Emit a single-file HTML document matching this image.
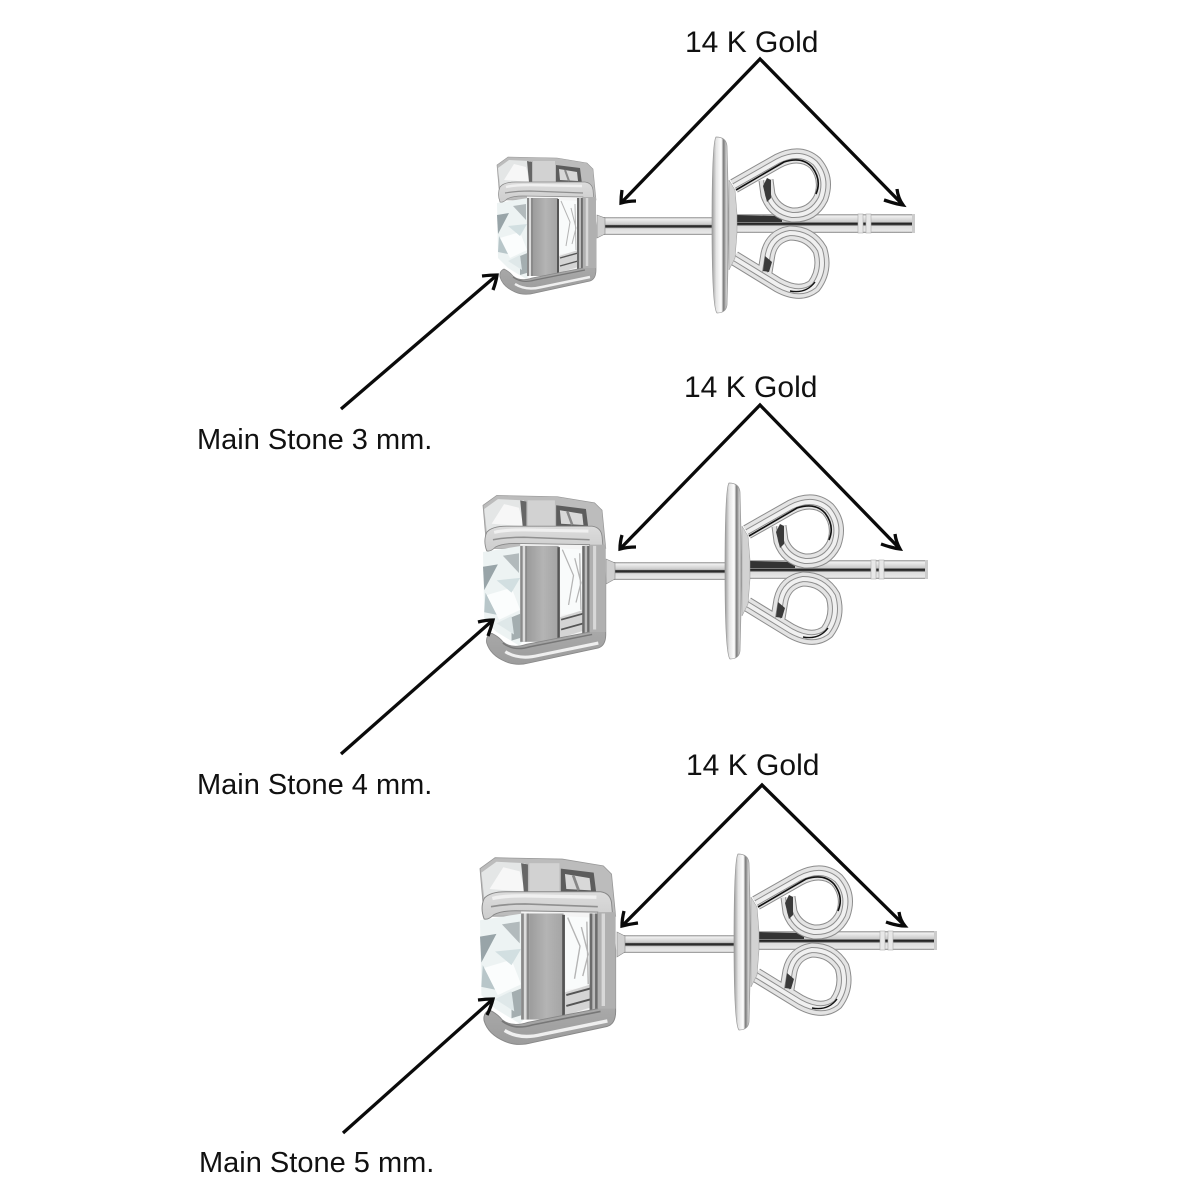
<!DOCTYPE html>
<html><head><meta charset="utf-8"><style>html,body{margin:0;padding:0;background:#fff}svg{display:block}text{font-family:"Liberation Sans",Arial,sans-serif;fill:#111}</style></head><body>
<svg width="1200" height="1200" viewBox="0 0 1200 1200" xmlns="http://www.w3.org/2000/svg">
<defs>
<linearGradient id="pin" x1="0" y1="0" x2="0" y2="1"><stop offset="0" stop-color="#999"/><stop offset=".12" stop-color="#eee"/><stop offset=".42" stop-color="#c8c8c8"/><stop offset=".48" stop-color="#222"/><stop offset=".56" stop-color="#333"/><stop offset=".64" stop-color="#ddd"/><stop offset=".9" stop-color="#e8e8e8"/><stop offset="1" stop-color="#888"/></linearGradient>
<linearGradient id="disc" x1="0" y1="0" x2="1" y2="0"><stop offset="0" stop-color="#999"/><stop offset=".25" stop-color="#e4e4e4"/><stop offset=".55" stop-color="#fff"/><stop offset=".68" stop-color="#777"/><stop offset=".85" stop-color="#d4d4d4"/><stop offset="1" stop-color="#888"/></linearGradient>
<linearGradient id="bar" x1="0" y1="0" x2="1" y2="0"><stop offset="0" stop-color="#9c9c9c"/><stop offset=".5" stop-color="#b4b4b4"/><stop offset="1" stop-color="#a4a4a4"/></linearGradient>
<linearGradient id="band" x1="0" y1="0" x2="0" y2="1"><stop offset="0" stop-color="#dcdcdc"/><stop offset=".4" stop-color="#bcbcbc"/><stop offset="1" stop-color="#9c9c9c"/></linearGradient>

<g id="head">
<!-- back band -->
<path d="M497 165 L508 157 L557 158 L587 163 L593 169 L596 200 L500 200 Z" fill="#bcbcbc" stroke="#999" stroke-width=".6"/>
<path d="M500 186 L498 168 L509 160 L530 161 L532 184 Z" fill="#e4e6e6"/>
<path d="M504 180 L514 164 L526 167 L530 182Z" fill="#f7f7f7"/>
<path d="M527 161 L532 162 L532 182 L529 182Z" fill="#666"/>
<rect x="533" y="161" width="22" height="21" fill="#d2d2d2"/>
<path d="M556 165 L580 168 L582 184 L556 183Z" fill="#5c5c5c"/>
<path d="M559 169 L577 172 L578 181 L560 180Z" fill="#d8d8d8"/>
<path d="M565 170 L569 181" stroke="#888" stroke-width="2"/>
<!-- stone -->
<path d="M497 203 L528 198 L533 272 L526 279 L508 268 L498 258 Z" fill="#edf3f3"/>
<path d="M497 215 L509 213 L498 234 Z" fill="#98a4a8"/>
<path d="M500 238 L520 232 L527 250 L510 258 Z" fill="#fbfdfd"/>
<path d="M513 206 L526 204 L526 220 Z" fill="#b2babc"/>
<path d="M508 226 L527 224 L520 236 Z" fill="#d2dfe1"/>
<path d="M499 236 L498 252 L508 254 Z" fill="#b8c6c9"/>
<path d="M520 256 L530 252 L530 272 L520 275Z" fill="#a4aeb0"/>
<path d="M508 261 L520 255 L522 270Z" fill="#dfe8e9"/>
<!-- window -->
<rect x="527" y="196" width="58" height="78" fill="#f4f4f4"/>
<path d="M558 200 L578 201 L578 252 L560 254Z" fill="#f9fbfb"/>
<path d="M561 201 L570 222 L566 246 M571 208 L576 228 L572 244 M575 204 L576 250" fill="none" stroke="#b4b4b4" stroke-width="1"/>
<path d="M559 256 L578 250 L578 267 L559 273 Z" fill="#d4d4d4"/>
<path d="M560 258 L578 253 M560 266 L578 261" stroke="#555" stroke-width="1.4"/>
<rect x="577" y="198" width="6" height="71" fill="#6c6c6c"/>
<rect x="579" y="198" width="2" height="71" fill="#bbb"/>
<rect x="527" y="198" width="6" height="78" fill="#8a8a8a"/>
<rect x="529" y="198" width="2" height="78" fill="#dcdcdc"/>
<rect x="533" y="198" width="25" height="78" fill="url(#bar)"/>
<rect x="557" y="199" width="2" height="75" fill="#555"/>
<!-- front frame -->
<path d="M500 202 Q497 194 500 187 Q504 182 516 182 L585 182 Q592 183 593 190 L596 225 L596 270 Q596 279 590 281 L535 293 Q524 296 515 292 Q503 287 500 277 Q499 271 504 269 Q510 272 513 276 Q520 282 532 278 L583 268 L583 197 L523 196 Q512 196 507 199 Q503 203 500 202Z" fill="url(#band)" stroke="#888" stroke-width=".7"/>
<rect x="583" y="197" width="13" height="71" fill="#b0b0b0"/>
<path d="M587 198 L587 266" stroke="#d8d8d8" stroke-width="2.5"/>
<path d="M506 187 Q514 185 530 185 L582 186" stroke="#f0f0f0" stroke-width="2.5" fill="none"/>
<path d="M515 284 Q526 291 542 287 L590 277" stroke="#efefef" stroke-width="2.5" fill="none"/>
<path d="M505 193 Q516 191 530 191 L583 193" stroke="#909090" stroke-width="1.2" fill="none"/>
<path d="M513 277 Q522 284 535 280 L585 270" stroke="#777" stroke-width="1.2" fill="none"/>
</g>

<g id="back">
<!-- rear pin -->
<rect x="728" y="214" width="187" height="19" fill="url(#pin)"/>
<path d="M737 215 L782 216 L782 222 L737 222Z" fill="#333"/>
<rect x="858" y="214" width="5" height="19" fill="#e8e8e8" stroke="#aaa" stroke-width=".6"/>
<rect x="866" y="214" width="5" height="19" fill="#e8e8e8" stroke="#aaa" stroke-width=".6"/>
<rect x="912" y="214" width="3" height="19" fill="#ccc"/>
<g fill="none" stroke-linecap="butt" stroke-linejoin="round">
<!-- top loop -->
<path d="M734 186 L778 161 Q800 150 815 163 Q828 178 821 198 Q812 216 792 215 Q774 212 768 195 L766 180" stroke="#8c8c8c" stroke-width="15"/>
<path d="M734 186 L778 161 Q800 150 815 163 Q828 178 821 198 Q812 216 792 215 Q774 212 768 195 L766 180" stroke="#e4e4e4" stroke-width="13"/>
<path d="M734 186 L778 161 Q800 150 815 163 Q828 178 821 198 Q812 216 792 215 Q774 212 768 195 L766 180" stroke="#8e8e8e" stroke-width="6"/>
<path d="M734 186 L778 161 Q800 150 815 163 Q828 178 821 198 Q812 216 792 215 Q774 212 768 195 L766 180" stroke="#f0f0f0" stroke-width="4"/>
<path d="M736 190 L784 162 Q802 156 812 167 Q822 180 816 194" stroke="#111" stroke-width="1.6"/>
<path d="M763 186 L767 178 L771 180 L771 198 L767 202Z" fill="#3a3a3a" stroke="none"/>
<!-- bottom loop -->
<path d="M734 258 L778 285 Q800 297 814 286 Q826 270 820 250 Q810 233 790 233 Q772 236 768 254 L765 272" stroke="#8c8c8c" stroke-width="15"/>
<path d="M734 258 L778 285 Q800 297 814 286 Q826 270 820 250 Q810 233 790 233 Q772 236 768 254 L765 272" stroke="#e4e4e4" stroke-width="13"/>
<path d="M734 258 L778 285 Q800 297 814 286 Q826 270 820 250 Q810 233 790 233 Q772 236 768 254 L765 272" stroke="#8e8e8e" stroke-width="6"/>
<path d="M734 258 L778 285 Q800 297 814 286 Q826 270 820 250 Q810 233 790 233 Q772 236 768 254 L765 272" stroke="#f0f0f0" stroke-width="4"/>
<path d="M790 291 Q806 294 815 282" stroke="#111" stroke-width="1.4"/>
<path d="M763 271 L769 272 L772 262 L765 256Z" fill="#3a3a3a" stroke="none"/>
</g>
<!-- disc -->
<path d="M716 137 Q726 137 727 146 L729 225 L727 305 Q726 313 717 313 Q712 308 712 225 Q712 142 716 137Z" fill="url(#disc)" stroke="#999" stroke-width=".7"/>
<path d="M729 180 L735 190 L737 214 L737 233 L735 258 L729 270Z" fill="#d2d2d2" stroke="#999" stroke-width=".5"/>
</g>
</defs>
<rect width="1200" height="1200" fill="#fff"/>

<!-- Earring 1 -->
<rect x="600" y="217" width="114" height="18" fill="url(#pin)"/>
<path d="M597 215 L605 218 L605 234 L597 238Z" fill="#cfcfcf" stroke="#888" stroke-width=".6"/>
<use href="#back"/>
<use href="#head"/>

<!-- Earring 2 -->
<rect x="612" y="562" width="115" height="18" fill="url(#pin)"/>
<path d="M606 559 L615 563 L615 579 L606 584Z" fill="#cfcfcf" stroke="#888" stroke-width=".6"/>
<use href="#back" transform="translate(13 346)"/>
<use href="#head" transform="translate(483 493) scale(1.24 1.23) translate(-497 -155)"/>

<!-- Earring 3 -->
<rect x="622" y="935" width="114" height="18" fill="url(#pin)"/>
<path d="M617 932 L625 936 L625 952 L617 957Z" fill="#cfcfcf" stroke="#888" stroke-width=".6"/>
<use href="#back" transform="translate(22 717)"/>
<use href="#head" transform="translate(480 855) scale(1.37 1.36) translate(-497 -155)"/>

<!-- Arrows -->
<g fill="none" stroke="#0a0a0a" stroke-width="3.3" stroke-linecap="butt" stroke-linejoin="miter">
<path d="M621 203 L760 59 L903 205"/>
<path d="M622 190 Q621 197 621 203 Q628 201 636 201"/>
<path d="M897 189 Q898 198 903 205 Q896 204 884 200"/>
<path d="M620 549 L760 405 L900 549"/>
<path d="M622 535 Q620 542 620 549 Q627 547 636 547"/>
<path d="M895 534 Q896 542 900 549 Q892 548 881 544"/>
<path d="M622 926 L762 785 L905 926"/>
<path d="M624 911 Q622 919 622 926 Q630 924 638 923"/>
<path d="M899 912 Q900 920 905 926 Q897 926 886 922"/>
<path d="M341 409 L497 275"/>
<path d="M482 276 Q491 275 497 275 Q496 282 493 290"/>
<path d="M341 754 L493 620"/>
<path d="M478 622 Q486 620 493 620 Q491 628 488 636"/>
<path d="M343 1133 L493 999"/>
<path d="M478 1000 Q486 999 493 999 Q491 1007 487 1015"/>
</g>

<!-- Labels -->
<text x="685" y="52" font-size="30">14 K Gold</text>
<text x="684" y="397" font-size="30">14 K Gold</text>
<text x="686" y="775" font-size="30">14 K Gold</text>
<text x="197" y="449" font-size="29">Main Stone 3 mm.</text>
<text x="197" y="794" font-size="29">Main Stone 4 mm.</text>
<text x="199" y="1172" font-size="29">Main Stone 5 mm.</text>
</svg>
</body></html>
